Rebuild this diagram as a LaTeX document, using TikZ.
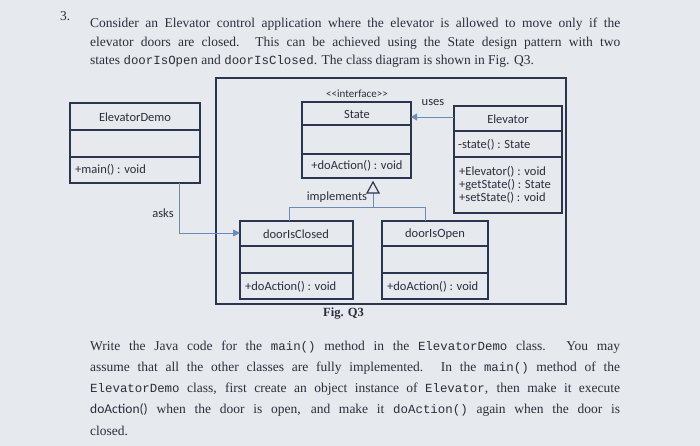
\documentclass[tikz,border=0pt]{standalone}
\usepackage{fontspec}
\setmainfont{Liberation Serif}
\newfontfamily\dfont{Carlito}
\newfontfamily\mfont{Liberation Mono}[Scale=0.92]
\usetikzlibrary{arrows.meta}
\definecolor{bg}{HTML}{E6EAEE}
\definecolor{bx}{HTML}{2B3550}
\definecolor{cn}{HTML}{6A8CBA}
\definecolor{tx}{HTML}{2A2E3A}
\begin{document}
\begin{tikzpicture}[x=1pt,y=-1pt,
  box/.style={draw=bx,line width=1.4pt},
  dl/.style={draw=bx,line width=1.2pt},
  dt/.style={font=\dfont\fontsize{12.5}{13}\selectfont,text=tx,inner sep=0pt},
  pl/.style={anchor=west,inner sep=0pt,text=tx,font=\fontsize{13.5}{15}\selectfont},
  cnx/.style={draw=cn,line width=0.8pt}]
\fill[bg] (0,0) rectangle (700,446);
\useasboundingbox (0,0) rectangle (700,446);
\node[pl] (n3) at (60,16) {3.};
\node[pl] (p1) at (90,24) {\hbox to 530pt{Consider an Elevator control application where the elevator is allowed to move only if the}};
\node[pl] (p2) at (90,43) {\hbox to 530pt{elevator doors are closed. This can be achieved using the State design pattern with two}};
\node[pl] (p3) at (90,61) {states {\mfont doorIsOpen} and {\mfont doorIsClosed}. The class diagram is shown in Fig. Q3.};
% outer box
\draw[box] (216,78) rectangle (566,304);
% ElevatorDemo
\draw[box] (70,103) rectangle (200,183);
\draw[dl] (70,130) -- (200,130) (70,157) -- (200,157);
\node[dt] (ed) at (135,117) {ElevatorDemo};
\node[dt,anchor=west] (edm) at (75,170) {+main() : void};
% State
\draw[box] (302,102) rectangle (411,178);
\draw[dl] (302,125) -- (411,125) (302,154) -- (411,154);
\node[dt] (st) at (357,114) {State};
\node[dt,font=\dfont\fontsize{11}{12}\selectfont] (iface) at (357,94) {<<interface>>};
\node[dt] (stm) at (357,166) {+doAction() : void};
% Elevator
\draw[box] (454,106) rectangle (562,213);
\draw[dl] (454,131) -- (562,131) (454,157) -- (562,157);
\node[dt] (el) at (508,119) {Elevator};
\node[dt,anchor=west] (ela) at (458,145) {-state() : State};
\node[dt,anchor=west,align=left] (elm) at (459,185) {+Elevator() : void\\+getState() : State\\+setState() : void};
% doorIsClosed
\draw[box] (240,221) rectangle (353,299);
\draw[dl] (240,246) -- (353,246) (240,273) -- (353,273);
\node[dt] (dc) at (296,234) {doorIsClosed};
\node[dt,anchor=west] (dcm) at (245,287) {+doAction() : void};
% doorIsOpen
\draw[box] (382,221) rectangle (488,299);
\draw[dl] (382,246) -- (488,246) (382,273) -- (488,273);
\node[dt] (do) at (435,234) {doorIsOpen};
\node[dt,anchor=west] (dom) at (387,287) {+doAction() : void};
% implements
\coordinate (tb) at (373,193);
\coordinate (tj) at (373,207);
\draw[cnx] (289,221) -- (289,207) -- (425,207) -- (425,221);
\draw[cnx] (tj) -- (tb);
\draw[draw=bx,line width=1.2pt,fill=bg] (373,182) -- (379,193) -- (367,193) -- cycle;
\node[dt] (impl) at (337,197) {implements};
% uses
\coordinate (ua) at (454,117);
\coordinate (ub) at (411,117);
\draw[cnx,-{Triangle[length=6pt,width=7pt,fill=cn]}] (ua) -- (ub);
\node[dt] (uses) at (433,103) {uses};
% asks
\coordinate (a1) at (179,183);
\coordinate (a2) at (179,233);
\coordinate (a3) at (240,233);
\draw[cnx,-{Triangle[length=7pt,width=7pt,fill=cn]}] (a1) -- (a2) -- (a3);
\node[dt] (asks) at (163,213) {asks};
\node[pl,font=\bfseries\fontsize{12.5}{13}\selectfont] (fig) at (323,314) {Fig. Q3};
\node[pl] (b1) at (90,347) {\hbox to 530pt{Write the Java code for the {\mfont main()} method in the {\mfont ElevatorDemo} class. You may}};
\node[pl] (b2) at (90,368) {\hbox to 530pt{assume that all the other classes are fully implemented. In the {\mfont main()} method of the}};
\node[pl] (b3) at (90,389) {\hbox to 530pt{{\mfont ElevatorDemo} class, first create an object instance of {\mfont Elevator}, then make it execute}};
\node[pl] (b4) at (90,410) {\hbox to 530pt{{\dfont doAction()} when the door is open, and make it {\mfont doAction()} again when the door is}};
\node[pl] (b5) at (90,431) {closed.};
\end{tikzpicture}
\end{document}
